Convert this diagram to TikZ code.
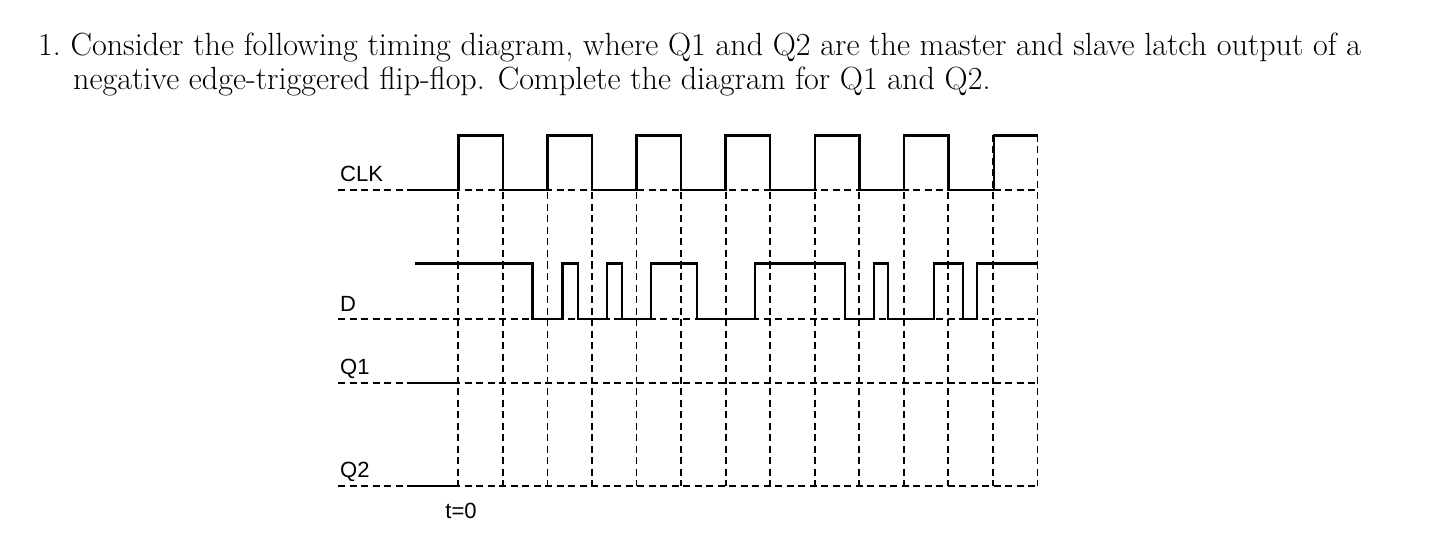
\documentclass[tikz,border=0pt]{standalone}
\usepackage{fontspec}
\newfontfamily\lab{Liberation Sans}
\begin{document}
\begin{tikzpicture}[x=1pt,y=-1pt,
  sig/.style={line width=2.4pt,line join=miter},
  grid/.style={line width=1.8pt,dash pattern=on 7pt off 4.5pt},
  lbl/.style={font=\lab\fontsize{22}{24}\selectfont,anchor=base west,inner sep=0}]
\useasboundingbox (0,0) rectangle (1430,556);
\node[anchor=base west,inner sep=0,font=\fontsize{32.1}{36}\selectfont] (t1) at (38,56) {1.\ Consider the following timing diagram, where Q1 and Q2 are the master and slave latch output of a};
\node[anchor=base west,inner sep=0,font=\fontsize{32.1}{36}\selectfont] (t2) at (73,90) {negative edge-triggered flip-flop. Complete the diagram for Q1 and Q2.};
\foreach \y/\n in {190/CLK,319/D,382.7/Q1,485.7/Q2}{
  \draw[grid] (338,\y) -- (1038,\y);
  \node[lbl] (l\n) at (340,\y-8) {\n};
}
\foreach \i in {0,...,13}{
  \draw[grid] (458.3+\i*44.55,135) -- (458.3+\i*44.55,485.7);
}
% CLK
\draw[sig] (414,190) \foreach \i in {0,...,5}{ -- (458.3+\i*89.1,190) -- (458.3+\i*89.1,135.4) -- (502.9+\i*89.1,135.4) -- (502.9+\i*89.1,190)} -- (993.8,190) -- (993.8,135.4) -- (1037.5,135.4);
% D
\draw[sig] (414.6,263.7) -- (532.5,263.7) -- (532.5,319) -- (562.5,319) -- (562.5,263.7) -- (578,263.7) -- (578,319) -- (607,319) -- (607,263.7) -- (622,263.7) -- (622,319) -- (651,319) -- (651,263.7) -- (697,263.7) -- (697,319) -- (755,319) -- (755,263.7) -- (845,263.7) -- (845,319) -- (874,319) -- (874,263.7) -- (888,263.7) -- (888,319) -- (934,319) -- (934,263.7) -- (963,263.7) -- (963,319) -- (977,319) -- (977,263.7) -- (1037.5,263.7);
\draw[sig] (413,382.7) -- (458.3,382.7);
\draw[sig] (413,485.7) -- (458.3,485.7);
\node[lbl,anchor=base] (t0) at (461,518) {t=0};
\end{tikzpicture}
\end{document}
